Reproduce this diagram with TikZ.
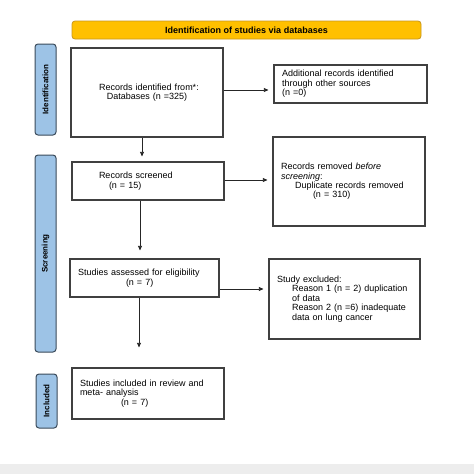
\documentclass[tikz,border=0pt]{standalone}
\usepackage{fontspec}
\setmainfont{Liberation Sans}
\usetikzlibrary{arrows.meta}
\definecolor{bannerfill}{HTML}{FFC000}
\definecolor{bannerline}{HTML}{C8961E}
\definecolor{stagefill}{HTML}{9DC3E6}
\definecolor{stageline}{HTML}{3A4A5A}
\definecolor{boxline}{HTML}{404040}
\definecolor{barfill}{HTML}{EDEDED}
\tikzset{
  box/.style={draw=boxline, line width=1.2pt, fill=white, inner xsep=8pt, inner ysep=0pt,
    font=\fontsize{9}{9.4}\selectfont, align=left},
  stage/.style={draw=stageline, line width=1pt, fill=stagefill, rounded corners=3pt,
    minimum height=21pt, inner sep=0pt, rotate=90, font=\fontsize{8}{8}\selectfont\bfseries},
  arr/.style={-{Triangle[length=4.5pt,width=4pt]}, draw=black!85, line width=0.7pt, shorten >=5pt}
}
\begin{document}
\begin{tikzpicture}[x=1pt, y=-1pt]
  \useasboundingbox (0,0) rectangle (474,474);
  \fill[barfill] (0,464) rectangle (474,474);

  % banner
  \node[draw=bannerline, line width=0.8pt, fill=bannerfill, rounded corners=3pt,
    minimum width=349pt, minimum height=18pt, inner sep=0pt,
    font=\fontsize{9}{9}\selectfont\bfseries] (banner) at (246.5,30) {Identification of studies via databases};

  % stage labels
  \node[stage, minimum width=91pt]  (idlab)  at (45.5,89.5) {Identification};
  \node[stage, minimum width=197pt] (scrlab) at (45.5,253.5) {Screening};
  \node[stage, minimum width=54pt]  (inclab) at (46.5,401) {Included};

  % boxes
  \node[box, align=center, text width=136pt, minimum height=89pt] (ident) at (147,92.5)
    {\hspace*{4pt}Records identified from*:\\Databases (n =325)\\[3pt]};
  \node[box, text width=137pt, minimum height=38pt] (other) at (350.5,84)
    {Additional records identified\\through other sources\\(n =0)};
  \node[box, text width=136pt, minimum height=38pt] (screened) at (148,181)
    {\hspace*{19pt}Records screened\\\hspace*{29pt}(n = 15)};
  \node[box, text width=136pt, minimum height=89pt] (removed) at (349,181.5)
    {Records removed \textit{before}\\\textit{screening}:\\\hspace*{14pt}Duplicate records removed\\\hspace*{32pt}(n = 310)};
  \node[box, text width=133pt, minimum height=38pt] (assessed) at (144.5,278)
    {Studies assessed for eligibility\\\hspace*{48pt}(n = 7)};
  \node[box, text width=135pt, minimum height=80pt] (excluded) at (344.5,299)
    {Study excluded:\\\hspace*{15pt}Reason 1 (n = 2) duplication\\\hspace*{15pt}of data\\\hspace*{15pt}Reason 2 (n =6) inadequate\\\hspace*{15pt}data on lung cancer\\[8pt]};
  \node[box, text width=136pt, minimum height=51pt] (included) at (148,393.5)
    {Studies included in review and\\meta- analysis\\\hspace*{41pt}(n = 7)\\[6pt]};

  % arrows
  \draw[arr] ([yshift=2.5pt]ident.east) -- ([yshift=2.5pt]ident.east -| other.west);
  \draw[arr] ([xshift=-5pt]ident.south) -- ([xshift=-5pt]ident.south |- screened.north);
  \draw[arr] ([yshift=1pt]screened.east) -- ([yshift=1pt]screened.east -| removed.west);
  \draw[arr, shorten >=8pt] ([xshift=-8pt]screened.south) -- ([xshift=-8pt]screened.south |- assessed.north);
  \draw[arr] ([yshift=-11pt]assessed.east) -- ([yshift=-11pt]assessed.east -| excluded.west);
  \draw[arr, shorten >=20pt] ([xshift=-5.5pt]assessed.south) -- ([xshift=-5.5pt]assessed.south |- included.north);
\end{tikzpicture}
\end{document}
